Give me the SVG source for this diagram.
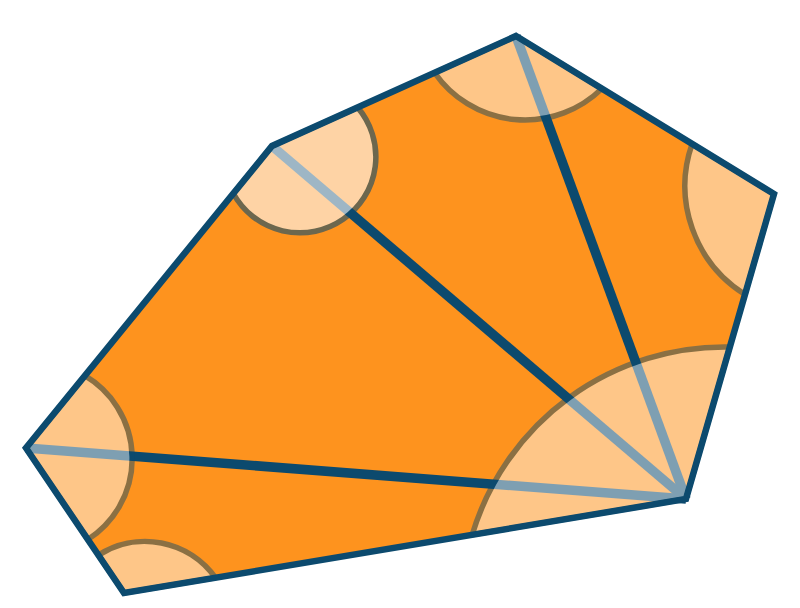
<svg xmlns="http://www.w3.org/2000/svg" width="800" height="608" viewBox="0 0 800 608">
  <style>
    .poly-fill { fill: #FE931E; stroke: none; }
    .poly-edge { fill: none; stroke: #0C4A6E; stroke-width: 6.5; stroke-linejoin: miter; stroke-miterlimit: 10; }
    .diag { stroke: #0C4A6E; stroke-width: 9.5; stroke-linecap: butt; fill: none; }
    .wedge { fill: #FFFFFF; stroke: #0C4A6E; stroke-width: 5.5; stroke-linejoin: round; opacity: 0.47; }
    .wedge-strong { opacity: 0.6; }
  </style>
  <rect width="800" height="608" fill="#FFFFFF"/>
  <g id="hexagon-fill">
    <polygon class="poly-fill" points="516,36 774,194 686,499 124,593 26,448 272,146"/>
  </g>
  <g id="connectors">
    <line class="diag" x1="686" y1="499" x2="516" y2="36"/>
    <line class="diag" x1="686" y1="499" x2="272" y2="146"/>
    <line class="diag" x1="686" y1="499" x2="26" y2="448"/>
  </g>
  <g id="angle-A"><path class="wedge" d="M516,36 L434.6,72.7 A110,110 0 0 0 601.9,88.6 Z"/></g>
  <g id="angle-B"><path class="wedge" d="M774,194 L692.1,143.9 A128,128 0 0 0 745,294.5 Z"/></g>
  <g id="angle-C"><path class="wedge" d="M686,499 L729.8,347.1 A263.3,263.3 0 0 0 472.2,534.8 Z"/></g>
  <g id="angle-D"><path class="wedge" d="M124,593 L98.4,555.1 A86.5,86.5 0 0 1 215.4,577.7 Z"/></g>
  <g id="angle-E"><path class="wedge" d="M26,448 L84.9,375.7 A96.2,96.2 0 0 1 87.9,539.5 Z"/></g>
  <g id="angle-F"><path class="wedge wedge-strong" d="M272,146 L357.6,107.4 A76,76 0 1 1 233.3,193.5 Z"/></g>
  <g id="hexagon-edge">
    <polygon class="poly-edge" points="516,36 774,194 686,499 124,593 26,448 272,146"/>
  </g>
</svg>
